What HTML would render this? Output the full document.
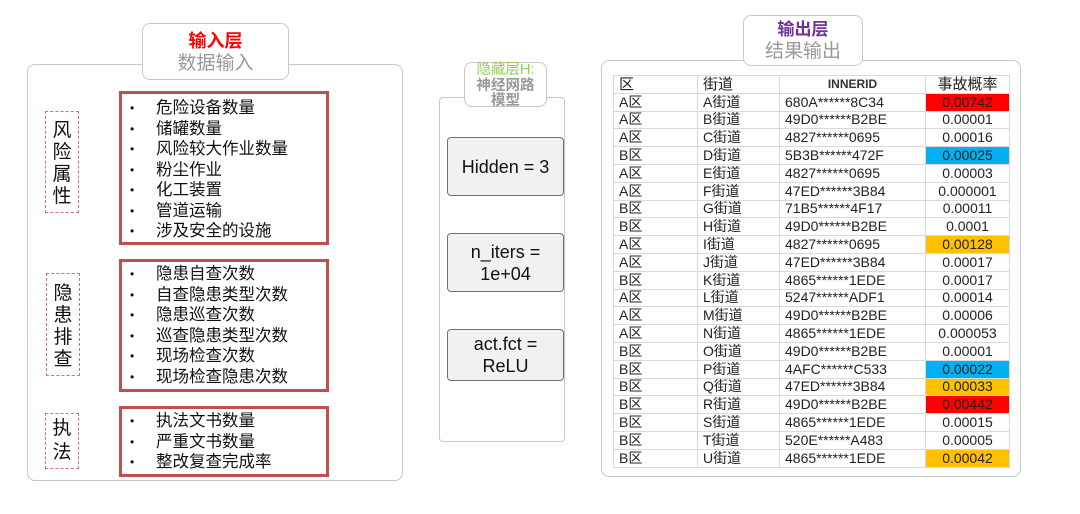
<!DOCTYPE html>
<html><head><meta charset="utf-8"><style>
*{margin:0;padding:0;box-sizing:border-box}
body{width:1080px;height:514px;background:#fff;position:relative;overflow:hidden;font-family:"Liberation Sans","Noto Sans CJK SC",sans-serif}
.a{position:absolute}
.rbox{border:1.5px solid #c8c8c8;border-radius:8px;background:#fff}
.title{border:1.5px solid #c8c8c8;border-radius:8px;background:#fff;text-align:center}
.dash{border:1.5px dashed #d9707a;font-size:19px;color:#111;text-align:center;line-height:22px}
.red{border:3px solid #c0504d}
.red div{font-size:16.5px;height:20.5px;line-height:20.5px;color:#111;white-space:nowrap;overflow:visible}
.red span{display:inline-block;width:34px;padding-left:8px;font-size:12px;line-height:20.5px;height:20.5px;vertical-align:top}
.gb{border:1.5px solid #707070;border-radius:4px;background:#f1f1f1;font-size:18px;text-align:center;color:#111;line-height:22px;display:flex;align-items:center;justify-content:center}
table{border-collapse:collapse;position:absolute;left:613px;top:75px;font-size:14px;color:#222;table-layout:fixed}
td{border:1.5px solid #d9d9d9;height:17.8px;padding:0 0 0 5px;line-height:15px;white-space:nowrap;overflow:hidden}
td.p{text-align:center;padding:0}
.R{background:#ff0000}.B{background:#00b0f0}.O{background:#ffc000}
</style></head><body>
<!-- left -->
<div class="a rbox" style="left:27px;top:64px;width:376px;height:417px"></div>
<div class="a title" style="left:142px;top:23px;width:147px;height:57px">
<div style="color:#ff0000;font-weight:bold;font-size:18px;line-height:22px;margin-top:6px">输入层</div>
<div style="color:#999;font-size:19px;line-height:24px">数据输入</div></div>
<div class="a dash" style="left:45px;top:111px;width:34px;height:102px;padding-top:8px">风<br>险<br>属<br>性</div>
<div class="a dash" style="left:46px;top:273px;width:34px;height:103px;padding-top:9px">隐<br>患<br>排<br>查</div>
<div class="a dash" style="left:45px;top:413px;width:34px;height:56px;padding-top:3px;line-height:24px">执<br>法</div>
<div class="a red" style="left:119px;top:91px;width:210px;height:154px;padding-top:4px">
<div><span>•</span>危险设备数量</div><div><span>•</span>储罐数量</div><div><span>•</span>风险较大作业数量</div><div><span>•</span>粉尘作业</div><div><span>•</span>化工装置</div><div><span>•</span>管道运输</div><div><span>•</span>涉及安全的设施</div></div>
<div class="a red" style="left:119px;top:259px;width:210px;height:133px;padding-top:2px">
<div><span>•</span>隐患自查次数</div><div><span>•</span>自查隐患类型次数</div><div><span>•</span>隐患巡查次数</div><div><span>•</span>巡查隐患类型次数</div><div><span>•</span>现场检查次数</div><div><span>•</span>现场检查隐患次数</div></div>
<div class="a red" style="left:119px;top:406px;width:210px;height:71px;padding-top:2px">
<div><span>•</span>执法文书数量</div><div><span>•</span>严重文书数量</div><div><span>•</span>整改复查完成率</div></div>
<!-- middle -->
<div class="a rbox" style="left:439px;top:97px;width:126px;height:345px;border-radius:4px"></div>
<div class="a title" style="left:464px;top:62px;width:83px;height:45px;font-size:14.5px;line-height:15.5px;color:#999;font-weight:bold;padding-top:0;overflow:visible">
<div style="color:#92d050;font-weight:normal">隐藏层H:</div><div>神经网路</div><div>模型</div></div>
<div class="a gb" style="left:447px;top:137px;width:117px;height:59px">Hidden = 3</div>
<div class="a gb" style="left:447px;top:233px;width:117px;height:59px">n_iters =<br>1e+04</div>
<div class="a gb" style="left:447px;top:329px;width:117px;height:52px">act.fct =<br>ReLU</div>
<!-- right -->
<div class="a rbox" style="left:601px;top:60px;width:420px;height:417px"></div>
<div class="a title" style="left:743px;top:15px;width:120px;height:51px">
<div style="color:#7030a0;font-weight:bold;font-size:17px;line-height:22px;margin-top:3px">输出层</div>
<div style="color:#999;font-size:19px;line-height:22px">结果输出</div></div>
<table>
<colgroup><col style="width:84px"><col style="width:82px"><col style="width:146px"><col style="width:84px"></colgroup>
<tr><td style="font-size:15px">区</td><td style="font-size:15px">街道</td><td class="p" style="font-size:12px;font-weight:bold;color:#333">INNERID</td><td class="p" style="font-size:15px">事故概率</td></tr>
<tr><td>A区</td><td>A街道</td><td>680A******8C34</td><td class="p R">0.00742</td></tr>
<tr><td>A区</td><td>B街道</td><td>49D0******B2BE</td><td class="p">0.00001</td></tr>
<tr><td>A区</td><td>C街道</td><td>4827******0695</td><td class="p">0.00016</td></tr>
<tr><td>B区</td><td>D街道</td><td>5B3B******472F</td><td class="p B">0.00025</td></tr>
<tr><td>A区</td><td>E街道</td><td>4827******0695</td><td class="p">0.00003</td></tr>
<tr><td>A区</td><td>F街道</td><td>47ED******3B84</td><td class="p">0.000001</td></tr>
<tr><td>B区</td><td>G街道</td><td>71B5******4F17</td><td class="p">0.00011</td></tr>
<tr><td>B区</td><td>H街道</td><td>49D0******B2BE</td><td class="p">0.0001</td></tr>
<tr><td>A区</td><td>I街道</td><td>4827******0695</td><td class="p O">0.00128</td></tr>
<tr><td>A区</td><td>J街道</td><td>47ED******3B84</td><td class="p">0.00017</td></tr>
<tr><td>B区</td><td>K街道</td><td>4865******1EDE</td><td class="p">0.00017</td></tr>
<tr><td>A区</td><td>L街道</td><td>5247******ADF1</td><td class="p">0.00014</td></tr>
<tr><td>A区</td><td>M街道</td><td>49D0******B2BE</td><td class="p">0.00006</td></tr>
<tr><td>A区</td><td>N街道</td><td>4865******1EDE</td><td class="p">0.000053</td></tr>
<tr><td>B区</td><td>O街道</td><td>49D0******B2BE</td><td class="p">0.00001</td></tr>
<tr><td>B区</td><td>P街道</td><td>4AFC******C533</td><td class="p B">0.00022</td></tr>
<tr><td>B区</td><td>Q街道</td><td>47ED******3B84</td><td class="p O">0.00033</td></tr>
<tr><td>B区</td><td>R街道</td><td>49D0******B2BE</td><td class="p R">0.00442</td></tr>
<tr><td>B区</td><td>S街道</td><td>4865******1EDE</td><td class="p">0.00015</td></tr>
<tr><td>B区</td><td>T街道</td><td>520E******A483</td><td class="p">0.00005</td></tr>
<tr><td>B区</td><td>U街道</td><td>4865******1EDE</td><td class="p O">0.00042</td></tr>
</table>
</body></html>
